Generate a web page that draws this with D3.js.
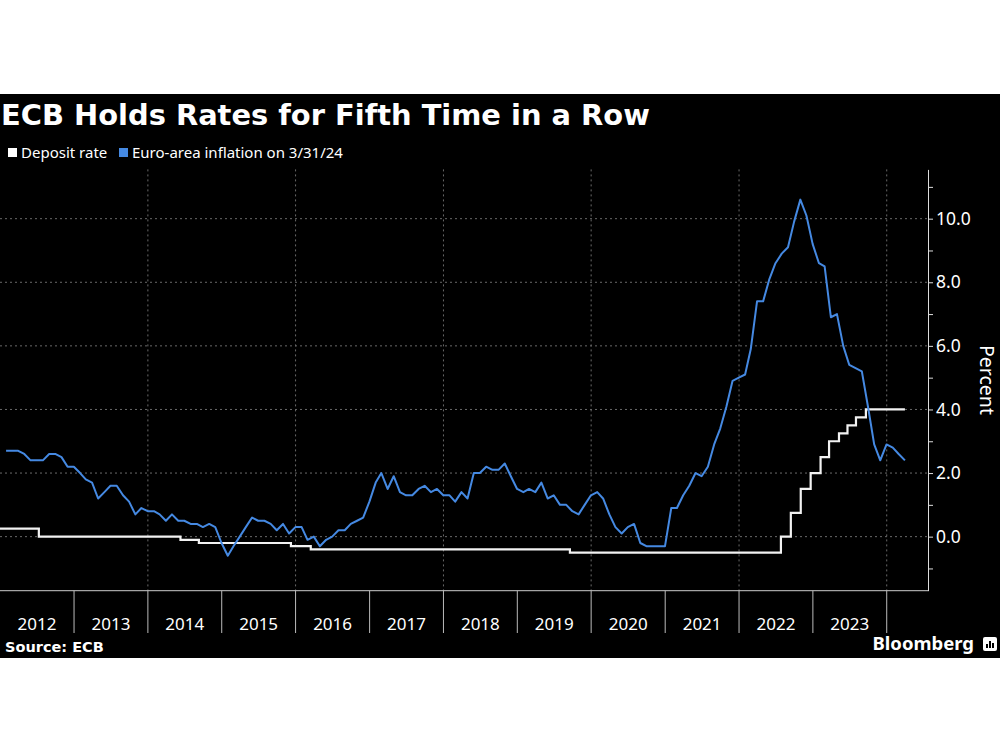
<!DOCTYPE html>
<html>
<head>
<meta charset="utf-8">
<script src="https://cdn.jsdelivr.net/npm/d3@7"></script>
<style>
  body { margin: 0; background: #fff; }
</style>
</head>
<body>
<div id="container"></div>
<script>
const title = "ECB Holds Rates for Fifth Time in a Row"
const seriesNames = ["Deposit rate", "Euro-area inflation on 3/31/24"]

// deposit facility rate, each value holds from its date on
const rateDates = ["2012-01-01", "2012-07-11", "2014-06-11", "2014-09-10", "2015-12-09", "2016-03-16",
  "2019-09-18", "2022-07-27", "2022-09-14", "2022-11-02", "2022-12-21", "2023-02-08", "2023-03-22",
  "2023-05-10", "2023-06-21", "2023-08-02", "2023-09-20", "2024-03-31"]
const rateValues = [0.25, 0, -0.1, -0.2, -0.3, -0.4, -0.5, 0, 0.75, 1.5, 2, 2.5, 3, 3.25, 3.5, 3.75, 4, 4]

// monthly inflation, Jan 2012 .. Mar 2024
const inflationStartYear = 2012
const inflationValues = [
  2.7, 2.7, 2.7, 2.6, 2.4, 2.4, 2.4, 2.6, 2.6, 2.5, 2.2, 2.2,
  2.0, 1.8, 1.7, 1.2, 1.4, 1.6, 1.6, 1.3, 1.1, 0.7, 0.9, 0.8,
  0.8, 0.7, 0.5, 0.7, 0.5, 0.5, 0.4, 0.4, 0.3, 0.4, 0.3, -0.2,
  -0.6, -0.3, 0.0, 0.3, 0.6, 0.5, 0.5, 0.4, 0.2, 0.4, 0.1, 0.3,
  0.3, -0.1, 0.0, -0.3, -0.1, 0.0, 0.2, 0.2, 0.4, 0.5, 0.6, 1.1,
  1.7, 2.0, 1.5, 1.9, 1.4, 1.3, 1.3, 1.5, 1.6, 1.4, 1.5, 1.3,
  1.3, 1.1, 1.4, 1.2, 2.0, 2.0, 2.2, 2.1, 2.1, 2.3, 1.9, 1.5,
  1.4, 1.5, 1.4, 1.7, 1.2, 1.3, 1.0, 1.0, 0.8, 0.7, 1.0, 1.3,
  1.4, 1.2, 0.7, 0.3, 0.1, 0.3, 0.4, -0.2, -0.3, -0.3, -0.3, -0.3,
  0.9, 0.9, 1.3, 1.6, 2.0, 1.9, 2.2, 2.9, 3.4, 4.1, 4.9, 5.0,
  5.1, 5.9, 7.4, 7.4, 8.1, 8.6, 8.9, 9.1, 9.9, 10.6, 10.1, 9.2,
  8.6, 8.5, 6.9, 7.0, 6.0, 5.4, 5.3, 5.2, 4.1, 2.9, 2.4, 2.9,
  2.8, 2.6, 2.4
]

const years = [2012, 2013, 2014, 2015, 2016, 2017, 2018, 2019, 2020, 2021, 2022, 2023]
const yTickValues = [-1, 0, 1, 2, 3, 4, 5, 6, 7, 8, 9, 10, 11]
const yGridValues = [0, 2, 4, 6, 8, 10]
const source = "Source: ECB"

const width = 1000
const height = 750
const plot = {left: 0, right: 928, top: 169.4, bottom: 590.7}
const blue = "#4589e2"
const labelFont = "'Noto Sans', sans-serif"

const parseDate = d3.timeParse("%Y-%m-%d")
const rates = rateDates.map((d, i) => ({date: parseDate(d), value: rateValues[i]}))
const inflation = inflationValues.map((v, i) => ({date: new Date(inflationStartYear, i + 1, 0), value: v}))

const x = d3.scaleTime()
  .domain([new Date(2012, 0, 1), new Date(2024, 6, 23)])
  .range([plot.left, plot.right])

const y = d3.scaleLinear()
  .domain([-1.7, 11.55])
  .range([plot.bottom, plot.top])

const svg = d3.create("svg")
  .attr("width", width)
  .attr("height", height)
  .style("display", "block")

svg.append("rect").attr("width", width).attr("height", height).attr("fill", "#fff")
svg.append("rect").attr("y", 94).attr("width", width).attr("height", 564).attr("fill", "#000")

// title + legend
svg.append("text")
  .attr("x", 1).attr("y", 125)
  .attr("fill", "#fff")
  .style("font-family", "'DejaVu Sans', sans-serif")
  .style("font-weight", "bold")
  .style("font-size", "28.9px")
  .text(title)

const legend = svg.append("g").style("font-family", labelFont).style("font-size", "15px")
const legendX = [8, 119]
const legendColors = ["#fff", blue]
seriesNames.forEach((name, i) => {
  legend.append("rect")
    .attr("x", legendX[i]).attr("y", 148)
    .attr("width", 9).attr("height", 9)
    .attr("fill", legendColors[i])
  legend.append("text")
    .attr("x", legendX[i] + 13).attr("y", 158)
    .attr("fill", "#fff")
    .text(name)
})

// grid
const grid = svg.append("g")
  .attr("stroke", "#6a6a6a")
  .attr("stroke-dasharray", "2,3")
  .attr("stroke-width", 1)

grid.selectAll(".vgrid")
  .data(d3.range(2014, 2025, 2))
  .enter().append("line")
  .attr("x1", d => x(new Date(d, 0, 1))).attr("x2", d => x(new Date(d, 0, 1)))
  .attr("y1", plot.top).attr("y2", plot.bottom)

grid.selectAll(".hgrid")
  .data(yGridValues)
  .enter().append("line")
  .attr("x1", plot.left).attr("x2", plot.right)
  .attr("y1", d => y(d)).attr("y2", d => y(d))

// lines
svg.append("path")
  .datum(rates)
  .attr("fill", "none")
  .attr("stroke", "#f2f2f2")
  .attr("stroke-width", 2.2)
  .attr("d", d3.line().x(d => x(d.date)).y(d => y(d.value)).curve(d3.curveStepAfter))

svg.append("path")
  .datum(inflation)
  .attr("fill", "none")
  .attr("stroke", blue)
  .attr("stroke-width", 2)
  .attr("stroke-linejoin", "round")
  .attr("d", d3.line().x(d => x(d.date)).y(d => y(d.value)))

// right axis
const yAxis = svg.append("g")
  .attr("transform", `translate(${plot.right}, 0)`)
  .call(d3.axisRight(y)
    .tickValues(yTickValues)
    .tickSize(5)
    .tickSizeOuter(0)
    .tickPadding(3)
    .tickFormat(d => d % 2 === 0 ? d3.format(".1f")(d) : ""))
yAxis.select(".domain").attr("stroke", "#ddd")
yAxis.selectAll(".tick line").attr("stroke", "#ddd")
yAxis.selectAll(".tick text")
  .attr("fill", "#fff")
  .style("font-family", labelFont)
  .style("font-size", "17.5px")

svg.append("text")
  .attr("transform", "translate(980, 380) rotate(90)")
  .attr("text-anchor", "middle")
  .attr("fill", "#fff")
  .style("font-family", labelFont)
  .style("font-size", "19.5px")
  .text("Percent")

// bottom axis with year separators
svg.append("line")
  .attr("x1", plot.left).attr("x2", plot.right)
  .attr("y1", plot.bottom).attr("y2", plot.bottom)
  .attr("stroke", "#ccc")

svg.selectAll(".sep")
  .data(years.map(d => d + 1))
  .enter().append("line")
  .attr("x1", d => x(new Date(d, 0, 1))).attr("x2", d => x(new Date(d, 0, 1)))
  .attr("y1", plot.bottom).attr("y2", 633)
  .attr("stroke", "#bbb")

svg.selectAll(".year")
  .data(years)
  .enter().append("text")
  .attr("x", d => (x(new Date(d, 0, 1)) + x(new Date(d + 1, 0, 1))) / 2)
  .attr("y", 630)
  .attr("text-anchor", "middle")
  .attr("fill", "#fff")
  .style("font-family", labelFont)
  .style("font-size", "17px")
  .text(d => d)

// footer
svg.append("text")
  .attr("x", 5).attr("y", 652)
  .attr("fill", "#fff")
  .style("font-family", "'DejaVu Sans', sans-serif")
  .style("font-weight", "bold")
  .style("font-size", "14.5px")
  .text(source)

svg.append("text")
  .attr("x", 974).attr("y", 650)
  .attr("text-anchor", "end")
  .attr("fill", "#fff")
  .style("font-family", labelFont)
  .style("font-weight", "bold")
  .style("font-size", "18.5px")
  .text("Bloomberg")

const logo = svg.append("g").attr("transform", "translate(983, 637)")
logo.append("rect").attr("width", 14).attr("height", 14).attr("rx", 2).attr("fill", "#fff")
logo.selectAll(".bar")
  .data([[3, 7, 5], [6, 4, 8], [9, 6, 6]])
  .enter().append("rect")
  .attr("x", d => d[0]).attr("y", d => d[1])
  .attr("width", 2).attr("height", d => d[2] - 1)
  .attr("fill", "#000")

document.querySelector("#container").appendChild(svg.node())
</script>
</body>
</html>
